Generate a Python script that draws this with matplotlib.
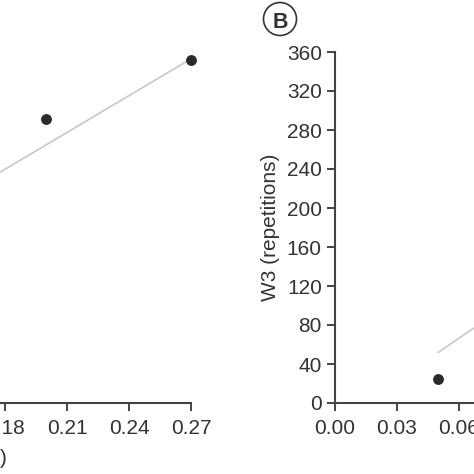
"""
Two-panel scatter with fitted lines (cropped view: right part of panel A,
left part of panel B).
"""

import matplotlib.pyplot as plt
from matplotlib.patches import Circle

plt.rcParams["font.family"] = ["Liberation Sans", "DejaVu Sans"]

INK = "#333333"
SPINE = "#444444"
DOT = "#2a2a2a"
FIT = "#c8c8c8"

# Panel A data (only the right end is visible in the crop)
a_x = [0.20, 0.27]
a_y = [291, 352]
a_fit_x = [0.15, 0.27]
a_fit_y = [202, 353]
a_xticks = [0.00, 0.03, 0.06, 0.09, 0.12, 0.15, 0.18, 0.21, 0.24, 0.27]
a_xlabel = "W2 (kg/kg)"

# Panel B data (only the left end is visible)
b_x = [0.05]
b_y = [25]
b_fit_x = [0.05, 0.12]
b_fit_y = [52, 153]
b_xticks = [0.00, 0.03, 0.06, 0.09, 0.12, 0.15, 0.18, 0.21, 0.24, 0.27]
b_yticks = [0, 40, 80, 120, 160, 200, 240, 280, 320, 360]
b_ylabel = "W3 (repetitions)"

W = H = 474
fig = plt.figure(figsize=(W / 100, H / 100), dpi=100)
fig.patch.set_facecolor("white")


def px_axes(left, top, right, bottom):
    return fig.add_axes([left / W, 1 - bottom / H,
                         (right - left) / W, (bottom - top) / H])


def style(ax):
    for side in ("top", "right"):
        ax.spines[side].set_visible(False)
    for side in ("left", "bottom"):
        ax.spines[side].set_color(SPINE)
        ax.spines[side].set_linewidth(1.5)
    ax.tick_params(direction="out", length=5.5, width=1.4, color=SPINE,
                   labelsize=15, labelcolor=INK, pad=4)
    ax.tick_params(axis="x", pad=6)
    ax.set_facecolor("none")


# Panel A: x axis 0.00..0.27, right end at px 191
ax_a = px_axes(-367, 52, 191, 403)
style(ax_a)
ax_a.plot(a_fit_x, a_fit_y, color=FIT, lw=1.2, zorder=2)
ax_a.plot(a_x, a_y, "o", color=DOT, ms=6.8, zorder=3, clip_on=False)
ax_a.set_xlim(0, 0.27)
ax_a.set_ylim(0, 360)
ax_a.set_xticks(a_xticks)
ax_a.set_xticklabels([f"{v:.2f}" for v in a_xticks])
ax_a.set_yticks(b_yticks)
ax_a.set_xlabel(a_xlabel, fontsize=15, color=INK, ha="right")
ax_a.xaxis.set_label_coords(374 / 558, -0.13)

# Panel B
ax_b = px_axes(335, 52, 893, 403)
style(ax_b)
ax_b.plot(b_fit_x, b_fit_y, color=FIT, lw=1.2, zorder=2)
ax_b.plot(b_x, b_y, "o", color=DOT, ms=6.8, zorder=3, clip_on=False)
ax_b.set_xlim(0, 0.27)
ax_b.set_ylim(0, 360)
ax_b.set_xticks(b_xticks)
ax_b.set_xticklabels([f"{v:.2f}" for v in b_xticks])
ax_b.set_yticks(b_yticks)
ax_b.set_ylabel(b_ylabel, fontsize=15, color=INK, labelpad=5)

# Circled panel letter
fig.patches.append(Circle((280 / W, 1 - 19 / H), 16.5 / W, transform=fig.transFigure,
                          facecolor="none", edgecolor=INK, lw=1.2))
fig.text(280 / W, 1 - 19.5 / H, "B", ha="center", va="center_baseline",
         fontsize=15.5, color=INK, fontweight="bold")

fig.savefig("out.png", dpi=100, facecolor="white")
